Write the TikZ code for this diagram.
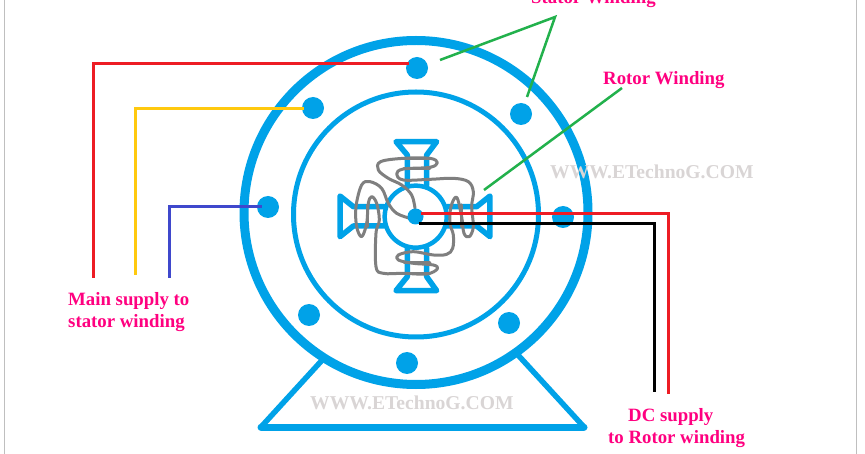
\documentclass[tikz,border=0pt]{standalone}
\usepackage{fontspec}
\setmainfont{Liberation Serif}
\definecolor{mblue}{HTML}{00A2E8}
\definecolor{wred}{HTML}{ED1C24}
\definecolor{wyellow}{HTML}{FFC90E}
\definecolor{windigo}{HTML}{3F48CC}
\definecolor{wgreen}{HTML}{22B14C}
\definecolor{wgray}{HTML}{7F7F7F}
\definecolor{lblpink}{HTML}{FF0080}
\definecolor{wmark}{HTML}{D9D5D5}
\tikzset{
  lbl/.style={text=lblpink,font=\bfseries\fontsize{18.8}{20}\selectfont,inner sep=0pt,anchor=base west},
  wm/.style={text=wmark,font=\bfseries\fontsize{19.6}{20}\selectfont,inner sep=0pt,anchor=base west},
  coilhole/.style={circle,fill=mblue,inner sep=0pt,minimum size=22pt},
  wire/.style={line width=3pt,line join=miter},
  pole/.style={draw=mblue,line width=5.5pt,line join=round,line cap=round},
  coilwire/.style={draw=wgray,line width=3pt,line join=round,line cap=round}
}
\begin{document}
\begin{tikzpicture}[x=1pt,y=-1pt]
\useasboundingbox (0,0) rectangle (865,454);
\clip (0,0) rectangle (865,454);
\fill[white] (0,0) rectangle (865,454);
\draw[black!25,line width=1pt] (4.5,0) -- (4.5,454);
\draw[black!25,line width=1pt] (856.5,0) -- (856.5,454);
% stand
\draw[mblue,line width=5.5pt,line cap=round] (325,357) -- (261,427);
\draw[mblue,line width=5.5pt,line cap=round] (518,355) -- (584,427);
\draw[mblue,line width=7pt,line cap=round] (261,427) -- (584,427);
% frame
\draw[mblue,line width=9pt,fill=white] (416,212.5) circle[radius=172];
\draw[mblue,line width=5pt] (416,214.5) circle[radius=122.5];
% winding holes
\node[coilhole] (s1) at (417,68) {};
\node[coilhole] (s2) at (521,114) {};
\node[coilhole] (s3) at (563,217) {};
\node[coilhole] (s4) at (509,323) {};
\node[coilhole] (s5) at (407,363) {};
\node[coilhole] (s6) at (309,315) {};
\node[coilhole] (s7) at (268,207) {};
\node[coilhole] (s8) at (313,108) {};
% rotor (coordinates in zoom units)
\begin{scope}[shift={(320,120)},x=0.3333pt,y=-0.3333pt]
\draw[mblue,line width=4.5pt] (287,290) circle[radius=93];
\draw[pole] (262,195) -- (262,105) -- (228,65) -- (350,65) -- (320,105) -- (320,195);
\draw[pole] (262,385) -- (262,470) -- (228,512) -- (350,512) -- (320,470) -- (320,385);
\draw[pole] (192,260) -- (100,260) -- (60,228) -- (60,350) -- (100,318) -- (192,318);
\draw[pole] (382,260) -- (470,260) -- (510,228) -- (510,350) -- (470,318) -- (382,318);
\draw[coilwire] plot[smooth,tension=0.6] coordinates {
 (285,265) (275,225) (245,195) (205,175) (175,150) (182,125) (250,115) (330,115)
 (352,128) (330,142) (250,147) (230,162) (250,180) (330,178) (400,175) (445,185)
 (460,215) (455,260) (460,320) (448,350) (432,340) (425,290) (410,232) (393,260)
 (390,310) (400,345) (398,385) (380,403) (340,405) (280,395) (235,405) (235,420)
 (280,430) (340,435) (352,447) (320,462) (250,460) (190,460) (168,440) (168,340)
 (178,300) (170,250) (155,230) (145,250) (140,310) (125,350) (110,320) (108,260)
 (125,195) (150,185) (185,205) (205,250) (230,280) (270,295)};
\draw[coilwire] (252,115) -- (330,115);
\draw[coilwire] (252,147) -- (330,147);
\draw[coilwire] (252,428) -- (330,428);
\draw[coilwire] (252,462) -- (330,462);
\draw[coilwire] (143,255) -- (143,320);
\draw[coilwire] (426,255) -- (426,320);
\end{scope}
\node[coilhole,minimum size=16pt] (hub) at (415.5,216.5) {};
% wires
\coordinate (mainred) at (93,278);
\coordinate (mainyel) at (135,275);
\coordinate (mainblu) at (169,278);
\coordinate (s1end) at (409,63.5);
\coordinate (s8end) at (304,108.5);
\coordinate (s7end) at (262,206.5);
\coordinate (dcred) at (668,394);
\coordinate (dcblk) at (654,392);
\draw[wire,wred] (mainred) |- (s1end);
\draw[wire,wyellow] (mainyel) |- (s8end);
\draw[wire,windigo] (mainblu) |- (s7end);
\draw[wire,wred] (hub.center) ++(5,-3) -- (668,213.5) -- (dcred);
\draw[wire,black] (hub.center) ++(3,7) -- (654,223.5) -- (dcblk);
% green leaders
\coordinate (gapex) at (555,17);
\coordinate (g1) at (440,60);
\coordinate (g2) at (527,97);
\coordinate (g3) at (622,88);
\coordinate (g4) at (484,190);
\draw[wgreen,line width=2.5pt] (g1) -- (gapex) -- (g2);
\draw[wgreen,line width=2.5pt] (g3) -- (g4);
% labels
\node[lbl] (tstator) at (531,4) {Stator Winding};
\node[lbl] (trotor) at (603,84.5) {Rotor Winding};
\node[lbl] (tmain1) at (68,306) {Main supply to};
\node[lbl] (tmain2) at (68,328) {stator winding};
\node[lbl] (tdc1) at (628,421) {DC supply};
\node[lbl] (tdc2) at (608,443) {to Rotor winding};
\node[wm] (wm1) at (550,179) {WWW.ETechnoG.COM};
\node[wm] (wm2) at (310,409) {WWW.ETechnoG.COM};
\end{tikzpicture}
\end{document}
